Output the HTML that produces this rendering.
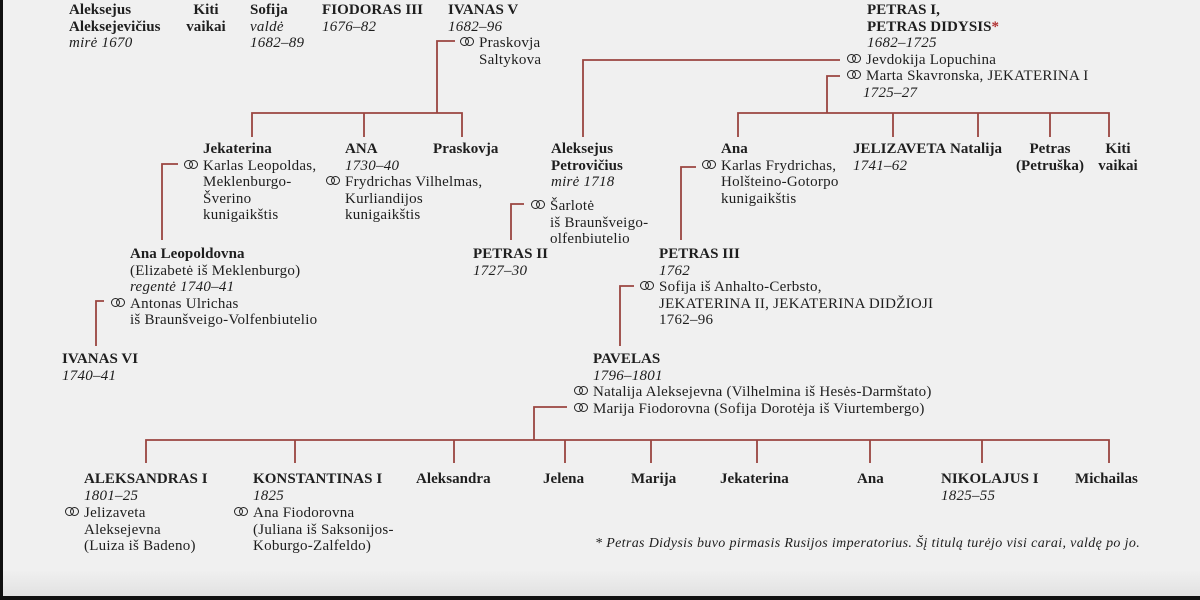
<!DOCTYPE html>
<html><head><meta charset="utf-8">
<style>
html,body{margin:0;padding:0}
body{width:1200px;height:600px;position:relative;overflow:hidden;background:#f0f0f0;font-family:"Liberation Serif","DejaVu Serif",serif;font-size:15px;letter-spacing:0.25px;line-height:16.6px;color:#1e1e1e}
.b{position:absolute;white-space:nowrap;margin-top:3px}
.n{font-weight:bold;letter-spacing:0.05px}
.i{font-style:italic}
.m{margin-left:-20px}
.r{display:inline-block;width:20px;height:10px;position:relative;vertical-align:0px}
.r:before,.r:after{content:"";position:absolute;top:0;width:7px;height:7px;border:1.3px solid #222;border-radius:50%}
.r:before{left:1px}.r:after{left:6px}
.c{text-align:center}
.star{color:#b03030}
svg{position:absolute;left:0;top:0}
#lb{position:absolute;left:0;top:0;width:3px;height:600px;background:#111}
#bb{position:absolute;left:0;top:596px;width:1200px;height:4px;background:#111}
#gr{position:absolute;left:0;top:570px;width:1200px;height:26px;background:linear-gradient(#f0f0f0,#e2e2e2)}
.f{font-style:italic;font-size:14px;letter-spacing:0.35px}
</style></head><body>
<div id="gr"></div>
<svg width="1200" height="600" fill="none" stroke="#9a4540" stroke-width="1.8">
<path d="M455 41H437V113"/>
<path d="M252 137V113H462V137M364 113V137"/>
<path d="M178 164H162V240"/>
<path d="M104 301H96V346"/>
<path d="M840 60H583V137"/>
<path d="M840 76H827V113"/>
<path d="M738 137V113H1109V137M893 113V137M978 113V137M1050 113V137"/>
<path d="M524 204H511V240"/>
<path d="M696 167H681V240"/>
<path d="M634 286H620V346"/>
<path d="M567 407H534V440"/>
<path d="M146 463V440H1109V463M295 440V463M454 440V463M565 440V463M651 440V463M757 440V463M870 440V463M982 440V463"/>
</svg>

<div class="b" style="left:69px;top:-1px"><div class="n">Aleksejus</div><div class="n">Aleksejevičius</div><div class="i">mirė 1670</div></div>
<div class="b n c" style="left:176px;top:-1px;width:60px">Kiti<br>vaikai</div>
<div class="b" style="left:250px;top:-1px"><div class="n">Sofija</div><div class="i">valdė</div><div class="i">1682–89</div></div>
<div class="b" style="left:322px;top:-1px"><div class="n">FIODORAS III</div><div class="i">1676–82</div></div>
<div class="b" style="left:479px;top:-1px"><div class="n" style="margin-left:-31px">IVANAS V</div><div class="i" style="margin-left:-31px">1682–96</div><div class="m"><span class="r"></span>Praskovja</div><div>Saltykova</div></div>

<div class="b" style="left:867px;top:-1px"><div class="n">PETRAS I,</div><div class="n">PETRAS DIDYSIS<span class="star">*</span></div><div class="i">1682–1725</div><div style="margin-left:-21px"><span class="r"></span>Jevdokija Lopuchina</div><div style="margin-left:-21px"><span class="r"></span>Marta Skavronska, JEKATERINA I</div><div class="i" style="margin-left:-4px">1725–27</div></div>

<div class="b" style="left:203px;top:138px"><div class="n">Jekaterina</div><div class="m"><span class="r"></span>Karlas Leopoldas,</div><div>Meklenburgo-</div><div>Šverino</div><div>kunigaikštis</div></div>
<div class="b" style="left:345px;top:138px"><div class="n">ANA</div><div class="i">1730–40</div><div class="m"><span class="r"></span>Frydrichas Vilhelmas,</div><div>Kurliandijos</div><div>kunigaikštis</div></div>
<div class="b n" style="left:433px;top:138px">Praskovja</div>

<div class="b" style="left:551px;top:138px"><div class="n">Aleksejus</div><div class="n">Petrovičius</div><div class="i">mirė 1718</div></div>
<div class="b" style="left:550px;top:195px"><div class="m"><span class="r"></span>Šarlotė</div><div>iš Braunšveigo-</div><div>olfenbiutelio</div></div>

<div class="b" style="left:721px;top:138px"><div class="n">Ana</div><div class="m"><span class="r"></span>Karlas Frydrichas,</div><div>Holšteino-Gotorpo</div><div>kunigaikštis</div></div>
<div class="b" style="left:853px;top:138px"><div class="n">JELIZAVETA</div><div class="i">1741–62</div></div>
<div class="b n" style="left:950px;top:138px">Natalija</div>
<div class="b n c" style="left:1010px;top:138px;width:80px">Petras<br>(Petruška)</div>
<div class="b n c" style="left:1088px;top:138px;width:60px">Kiti<br>vaikai</div>

<div class="b" style="left:130px;top:243px"><div class="n">Ana Leopoldovna</div><div>(Elizabetė iš Meklenburgo)</div><div class="i">regentė 1740–41</div><div class="m"><span class="r"></span>Antonas Ulrichas</div><div>iš Braunšveigo-Volfenbiutelio</div></div>
<div class="b" style="left:473px;top:243px"><div class="n">PETRAS II</div><div class="i">1727–30</div></div>
<div class="b" style="left:659px;top:243px"><div class="n">PETRAS III</div><div class="i">1762</div><div class="m"><span class="r"></span>Sofija iš Anhalto-Cerbsto,</div><div>JEKATERINA II, JEKATERINA DIDŽIOJI</div><div>1762–96</div></div>

<div class="b" style="left:62px;top:348px"><div class="n">IVANAS VI</div><div class="i">1740–41</div></div>
<div class="b" style="left:593px;top:348px"><div class="n">PAVELAS</div><div class="i">1796–1801</div><div class="m"><span class="r"></span>Natalija Aleksejevna (Vilhelmina iš Hesės-Darmštato)</div><div class="m"><span class="r"></span>Marija Fiodorovna (Sofija Dorotėja iš Viurtembergo)</div></div>

<div class="b" style="left:84px;top:468px"><div class="n">ALEKSANDRAS I</div><div class="i">1801–25</div><div class="m" style="margin-top:1px"><span class="r"></span>Jelizaveta</div><div>Aleksejevna</div><div>(Luiza iš Badeno)</div></div>
<div class="b" style="left:253px;top:468px"><div class="n">KONSTANTINAS I</div><div class="i">1825</div><div class="m" style="margin-top:1px"><span class="r"></span>Ana Fiodorovna</div><div>(Juliana iš Saksonijos-</div><div>Koburgo-Zalfeldo)</div></div>
<div class="b n" style="left:416px;top:468px">Aleksandra</div>
<div class="b n" style="left:543px;top:468px">Jelena</div>
<div class="b n" style="left:631px;top:468px">Marija</div>
<div class="b n" style="left:720px;top:468px">Jekaterina</div>
<div class="b n" style="left:857px;top:468px">Ana</div>
<div class="b" style="left:941px;top:468px"><div class="n">NIKOLAJUS I</div><div class="i">1825–55</div></div>
<div class="b n" style="left:1075px;top:468px">Michailas</div>

<div class="b f" style="left:595px;top:533px">* Petras Didysis buvo pirmasis Rusijos imperatorius. Šį titulą turėjo visi carai, valdę po jo.</div>

<div id="lb"></div><div id="bb"></div>
</body></html>
